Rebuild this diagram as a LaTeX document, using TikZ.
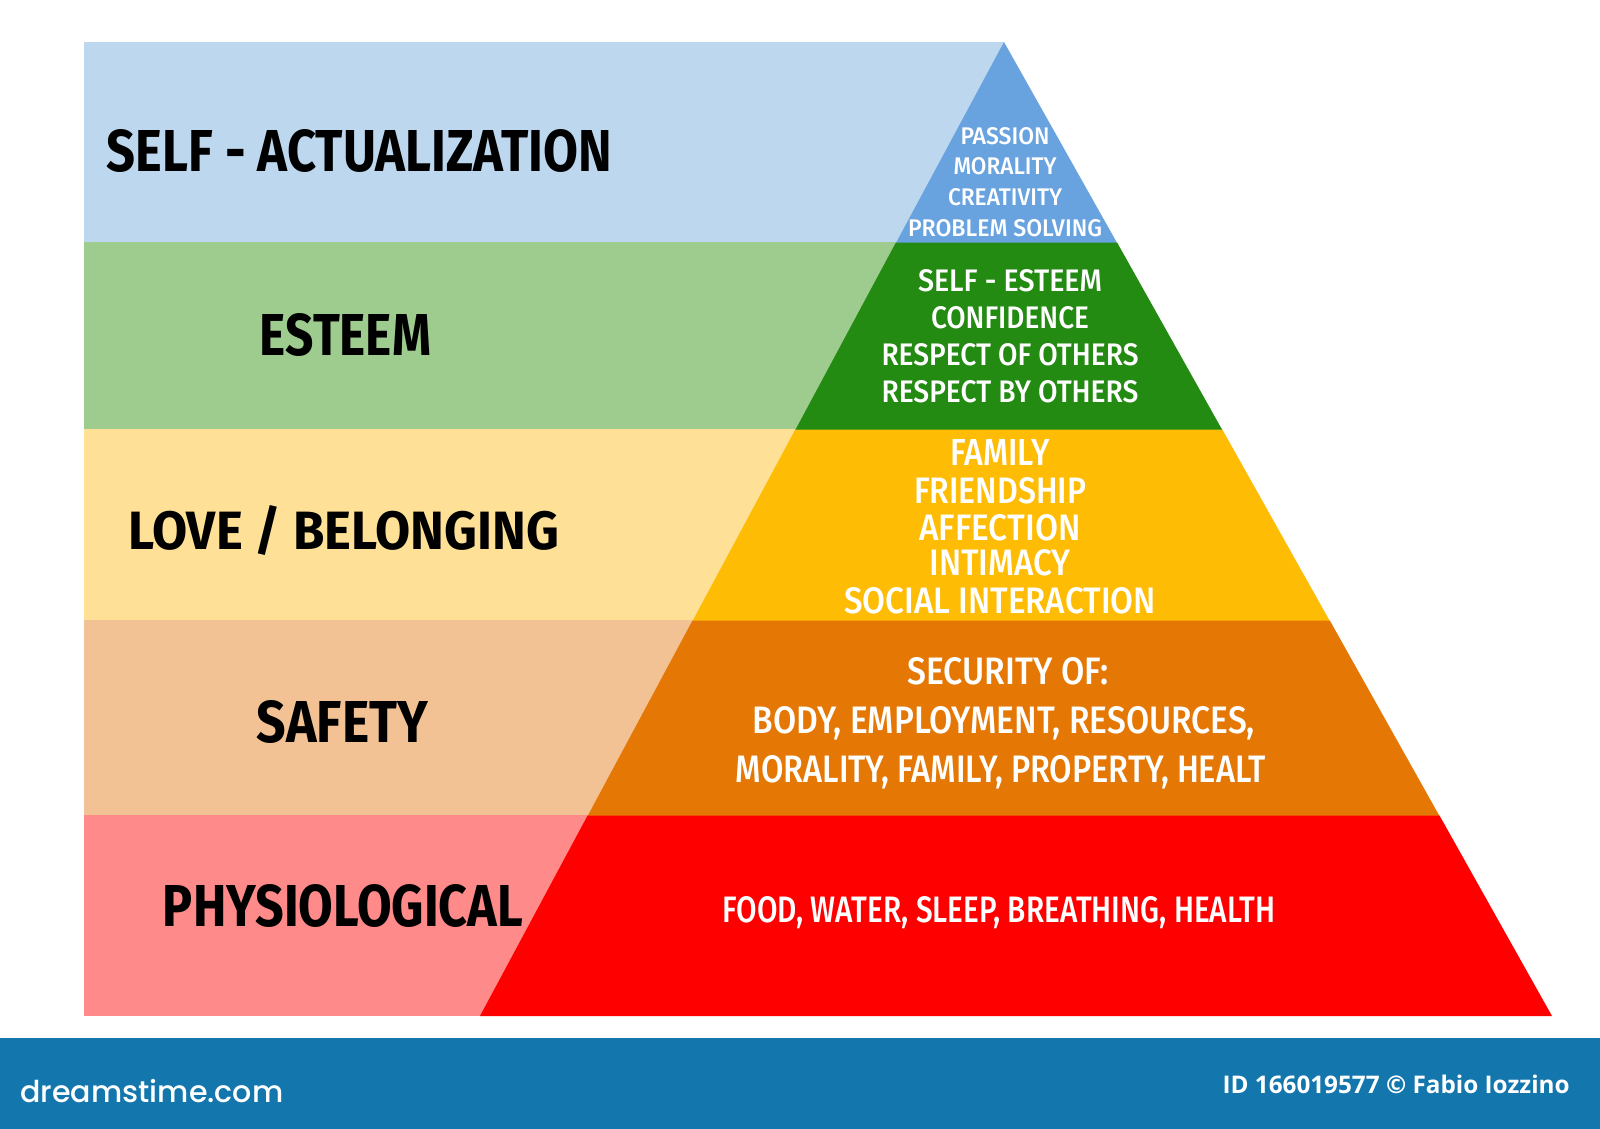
\documentclass[tikz,border=0pt]{standalone}
\usepackage{fontspec}
\setmainfont{Fira Sans}
\newfontfamily\medfont{Fira Sans Medium}
\newfontfamily\footfont{Open Sans}
\newfontfamily\logofont{Poppins Medium}
\newlength\px \setlength\px{0.5pt}
\newcommand\fitbox[3]{\resizebox{#1\px}{#2\px}{#3}}
\definecolor{lblue}{RGB}{189,215,238}
\definecolor{dblue}{RGB}{104,163,224}
\definecolor{lgreen}{RGB}{158,203,142}
\definecolor{dgreen}{RGB}{35,138,18}
\definecolor{lyellow}{RGB}{254,225,150}
\definecolor{dyellow}{RGB}{255,188,5}
\definecolor{lorange}{RGB}{242,194,148}
\definecolor{dorange}{RGB}{229,119,4}
\definecolor{lred}{RGB}{254,138,138}
\definecolor{dred}{RGB}{255,0,0}
\definecolor{footblue}{RGB}{19,118,173}
\tikzset{
  leftlab/.style={inner sep=0pt, anchor=base, text=black, font=\bfseries},
  rightlab/.style={inner sep=0pt, anchor=base, text=white, font=\medfont},
  footlab/.style={inner sep=0pt, text=white},
}
\begin{document}
\begin{tikzpicture}[x=0.5pt,y=-0.5pt]
\useasboundingbox (0,0) rectangle (1600,1129);
\fill[white] (0,0) rectangle (1600,1129);
% left bands
\fill[lblue]   (84,42)  rectangle (1004,243);
\fill[lgreen]  (84,242) rectangle (895.9,430);
\fill[lyellow] (84,429) rectangle (795.3,621);
\fill[lorange] (84,620) rectangle (692.5,816);
\fill[lred]    (84,815) rectangle (587.6,1016);
% pyramid
\fill[dblue]   (1004,42) -- (1117.1,243) -- (895.9,243) -- cycle;
\fill[dgreen]  (895.9,242.5) -- (1117.1,242.5) -- (1222.3,430) -- (795.3,430) -- cycle;
\fill[dyellow] (795.3,429.5) -- (1222.3,429.5) -- (1329.8,621) -- (692.5,621) -- cycle;
\fill[dorange] (692.5,620.5) -- (1329.8,620.5) -- (1439.5,816) -- (587.6,816) -- cycle;
\fill[dred]    (587.6,815.5) -- (1439.5,815.5) -- (1552,1016) -- (480,1016) -- cycle;
% footer
\fill[footblue] (0,1038) rectangle (1600,1129);
% left labels
\node[leftlab] (lSA) at (359.5,171) {\fitbox{505}{42}{SELF - ACTUALIZATION}};
\node[leftlab] (lES) at (345.5,355) {\fitbox{171}{42}{ESTEEM}};
\node[leftlab] (lLB) at (343.5,549) {\fitbox{431}{44}{LOVE / BELONGING}};
\node[leftlab] (lSF) at (342.5,742) {\fitbox{171}{42}{SAFETY}};
\node[leftlab] (lPH) at (343,926) {\fitbox{360}{42}{PHYSIOLOGICAL}};
% blue
\node[rightlab] (b1) at (1005,144.5) {\fitbox{89}{17}{PASSION}};
\node[rightlab] (b2) at (1005,174.5) {\fitbox{103}{17}{MORALITY}};
\node[rightlab] (b3) at (1005,205.5) {\fitbox{114}{17}{CREATIVITY}};
\node[rightlab] (b4) at (1005,236.5) {\fitbox{194}{17}{PROBLEM SOLVING}};
% green
\node[rightlab] (g1) at (1010,291) {\fitbox{184}{22}{SELF - ESTEEM}};
\node[rightlab] (g2) at (1010,328) {\fitbox{158}{22}{CONFIDENCE}};
\node[rightlab] (g3) at (1010,365) {\fitbox{257}{22}{RESPECT OF OTHERS}};
\node[rightlab] (g4) at (1010,402) {\fitbox{257}{22}{RESPECT BY OTHERS}};
% yellow
\node[rightlab] (y1) at (1000,465) {\fitbox{99}{26}{FAMILY}};
\node[rightlab] (y2) at (1000,503) {\fitbox{172}{26}{FRIENDSHIP}};
\node[rightlab] (y3) at (1000,540) {\fitbox{161}{26}{AFFECTION}};
\node[rightlab] (y4) at (1000,575) {\fitbox{141}{26}{INTIMACY}};
\node[rightlab] (y5) at (1000,613) {\fitbox{312}{26}{SOCIAL INTERACTION}};
% orange
\node[rightlab] (o1) at (1008,684.5) {\fitbox{201}{27}{SECURITY OF:}};
\node[rightlab] (o2) at (1004,733.5) {\fitbox{502}{27}{BODY, EMPLOYMENT, RESOURCES,}};
\node[rightlab] (o3) at (1001,782.5) {\fitbox{530}{27}{MORALITY, FAMILY, PROPERTY, HEALT}};
% red
\node[rightlab] (r1) at (999,922) {\fitbox{553}{26}{FOOD, WATER, SLEEP, BREATHING, HEALTH}};
% footer text
\node[footlab, anchor=base west] (logo) at (20,1102) {\resizebox{263\px}{!}{\logofont dreamstime.com}};
\node[footlab, anchor=base east] (credit) at (1570,1093) {\resizebox{347\px}{!}{\footfont\bfseries ID 166019577 © Fabio Iozzino}};
\end{tikzpicture}
\end{document}
